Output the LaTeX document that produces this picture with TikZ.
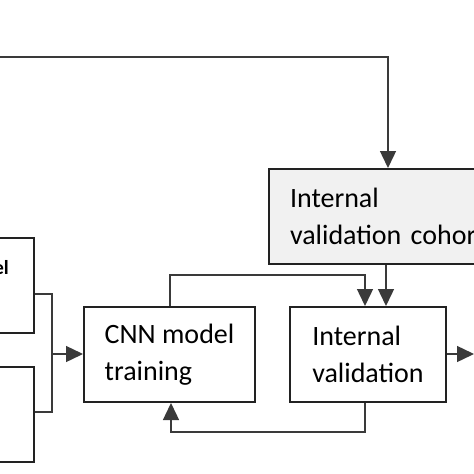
\documentclass[tikz,border=0pt]{standalone}
\usepackage{fontspec}
\setmainfont{Carlito}
\usetikzlibrary{arrows.meta}
\definecolor{boxc}{HTML}{222222}
\definecolor{linec}{HTML}{3A3A3A}
\definecolor{grayf}{HTML}{F1F1F1}
\begin{document}
\begin{tikzpicture}[x=1pt,y=-1pt,
  box/.style={draw=boxc, line width=2pt, inner ysep=0pt, inner xsep=0pt,
    minimum height=95pt, align=left, font=\fontsize{28}{37}\selectfont},
  conn/.style={draw=linec, line width=1.4pt},
  arr/.style={conn, -{Triangle[length=17pt,width=16pt]}}]
\useasboundingbox (0,0) rectangle (474,474);
\clip (0,0) rectangle (474,474);
% boxes
\node[box, minimum width=220pt, anchor=north east] (box1) at (35,237) {};
\node[anchor=base east, inner sep=0pt, font=\fontsize{20}{24}\selectfont\bfseries] (box1text) at (9,274) {el};
\node[box, minimum width=220pt, anchor=north east] (box2) at (35,366) {};
\node[box, minimum width=171pt, anchor=north west] (cnn) at (83,306) {CNN model\\training};
\node[box, minimum width=156pt, anchor=north west] (iv) at (289,306) {Internal\\validation};
\node[box, fill=grayf, inner xsep=21pt, text width=260pt, anchor=north west] (gray) at (268,168) {Internal\\validation cohort};
% coordinates
\coordinate (tl) at (-5,57);
\coordinate (tr) at (388,57);
\coordinate (b1) at (52,294);
\coordinate (b2) at (52,412);
\coordinate (bm) at (52,354);
\coordinate (g1) at (386,280);
\coordinate (l1) at (170,275);
\coordinate (l2) at (365,275);
\coordinate (l3) at (365,432);
\coordinate (l4) at (171,432);
\coordinate (out) at (474,354);
% connectors
\draw[arr] (tl) -- (tr) -- (tr |- gray.north);
\draw[conn] (box1.east |- b1) -- (b1) -- (b2) -- (box2.east |- b2);
\draw[arr] (bm) -- (cnn.west |- bm);
\draw[arr] (gray.south -| g1) -- (iv.north -| g1);
\draw[arr] (cnn.north -| l1) -- (l1) -- (l2) -- (l2 |- iv.north);
\draw[arr] (iv.south -| l3) -- (l3) -- (l4) -- (l4 |- cnn.south);
\draw[arr] (iv.east |- out) -- (out);
\end{tikzpicture}
\end{document}
